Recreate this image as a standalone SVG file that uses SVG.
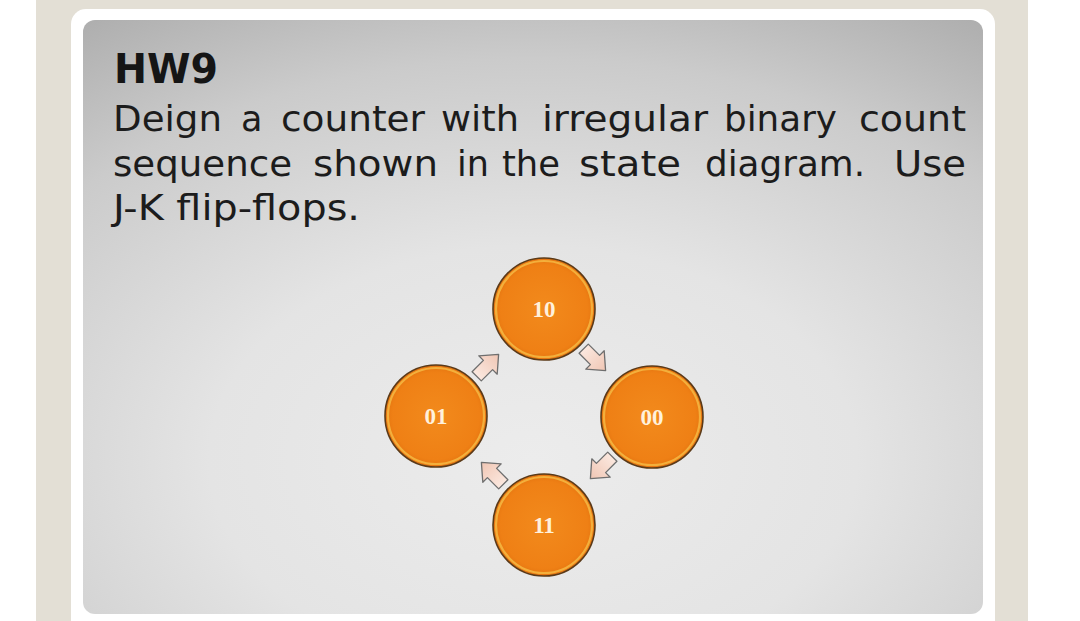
<svg xmlns="http://www.w3.org/2000/svg" width="1080" height="621" viewBox="0 0 1080 621">
  <defs>
    <radialGradient id="panelGrad" cx="0.5" cy="0.74" r="0.9">
      <stop offset="0" stop-color="#ececec"/>
      <stop offset="0.4" stop-color="#e4e4e4"/>
      <stop offset="0.75" stop-color="#cbcbcb"/>
      <stop offset="1" stop-color="#adadad"/>
    </radialGradient>
    <radialGradient id="orangeGrad" cx="0.5" cy="0.5" r="0.5">
      <stop offset="0" stop-color="#f28a1c"/>
      <stop offset="0.85" stop-color="#ef8015"/>
      <stop offset="1" stop-color="#e57510"/>
    </radialGradient>
    <linearGradient id="arrowGrad" x1="0" y1="0" x2="1" y2="0">
      <stop offset="0" stop-color="#fbe8df"/>
      <stop offset="1" stop-color="#f0c6b4"/>
    </linearGradient>
    <style>
      .title { font-family: "DejaVu Sans", Verdana, sans-serif; font-weight: bold; font-size: 40px; fill: #151515; }
      .body { font-family: "DejaVu Sans", Verdana, sans-serif; font-size: 35px; fill: #1c1c1c; }
      .state { fill: url(#orangeGrad); stroke: #5b3a18; stroke-width: 1.6; }
      .rim { fill: none; stroke: #f7c24a; stroke-width: 2.2; opacity: 0.75; }
      .label { font-family: "Liberation Serif", "Times New Roman", serif; font-weight: bold; font-size: 23px; fill: #fff1dc; text-anchor: middle; }
      .arrow { fill: url(#arrowGrad); stroke: #6e6e6e; stroke-width: 1.3; stroke-linejoin: round; }
    </style>
    <path id="blockArrow" d="M-16,-6.5 L0,-6.5 L0,-13 L15,0 L0,13 L0,6.5 L-16,6.5 Z"/>
  </defs>

  <rect x="0" y="0" width="1080" height="621" fill="#ffffff"/>
  <rect x="36" y="0" width="992" height="621" fill="#e3dfd5"/>
  <rect x="71" y="9" width="924" height="630" rx="15" fill="#ffffff"/>
  <rect x="83" y="20" width="900" height="594" rx="12" fill="url(#panelGrad)"/>

  <text class="title" x="114" y="83" textLength="104" lengthAdjust="spacingAndGlyphs">HW9</text>
  <text class="body" y="131"><tspan x="113" textLength="109" lengthAdjust="spacingAndGlyphs">Deign</tspan> <tspan x="241">a</tspan> <tspan x="281" textLength="144" lengthAdjust="spacingAndGlyphs">counter</tspan> <tspan x="441" textLength="78" lengthAdjust="spacingAndGlyphs">with</tspan> <tspan x="542" textLength="166" lengthAdjust="spacingAndGlyphs">irregular</tspan> <tspan x="724" textLength="113" lengthAdjust="spacingAndGlyphs">binary</tspan> <tspan x="859" textLength="107" lengthAdjust="spacingAndGlyphs">count</tspan></text>
  <text class="body" y="176"><tspan x="113" textLength="179" lengthAdjust="spacingAndGlyphs">sequence</tspan> <tspan x="313" textLength="125" lengthAdjust="spacingAndGlyphs">shown</tspan> <tspan x="457">in</tspan> <tspan x="502" textLength="58" lengthAdjust="spacingAndGlyphs">the</tspan> <tspan x="579" textLength="102" lengthAdjust="spacingAndGlyphs">state</tspan> <tspan x="705" textLength="160" lengthAdjust="spacingAndGlyphs">diagram.</tspan> <tspan x="894" textLength="72" lengthAdjust="spacingAndGlyphs">Use</tspan></text>
  <text class="body" x="113" y="220" textLength="247" lengthAdjust="spacingAndGlyphs">J-K flip-flops.</text>

  <g id="connectors">
    <use href="#blockArrow" class="arrow" transform="translate(488,365) rotate(-45)"/>
    <use href="#blockArrow" class="arrow" transform="translate(595,360) rotate(45)"/>
    <use href="#blockArrow" class="arrow" transform="translate(601,468) rotate(135)"/>
    <use href="#blockArrow" class="arrow" transform="translate(492,473) rotate(-135)"/>
  </g>

  <g id="node-10">
    <circle class="state" cx="544" cy="309" r="51"/>
    <circle class="rim" cx="544" cy="309" r="48"/>
    <text class="label" x="544" y="317">10</text>
  </g>
  <g id="node-01">
    <circle class="state" cx="436" cy="416" r="51"/>
    <circle class="rim" cx="436" cy="416" r="48"/>
    <text class="label" x="436" y="424">01</text>
  </g>
  <g id="node-00">
    <circle class="state" cx="652" cy="417" r="51"/>
    <circle class="rim" cx="652" cy="417" r="48"/>
    <text class="label" x="652" y="425">00</text>
  </g>
  <g id="node-11">
    <circle class="state" cx="544" cy="525" r="51"/>
    <circle class="rim" cx="544" cy="525" r="48"/>
    <text class="label" x="544" y="533">11</text>
  </g>
</svg>
